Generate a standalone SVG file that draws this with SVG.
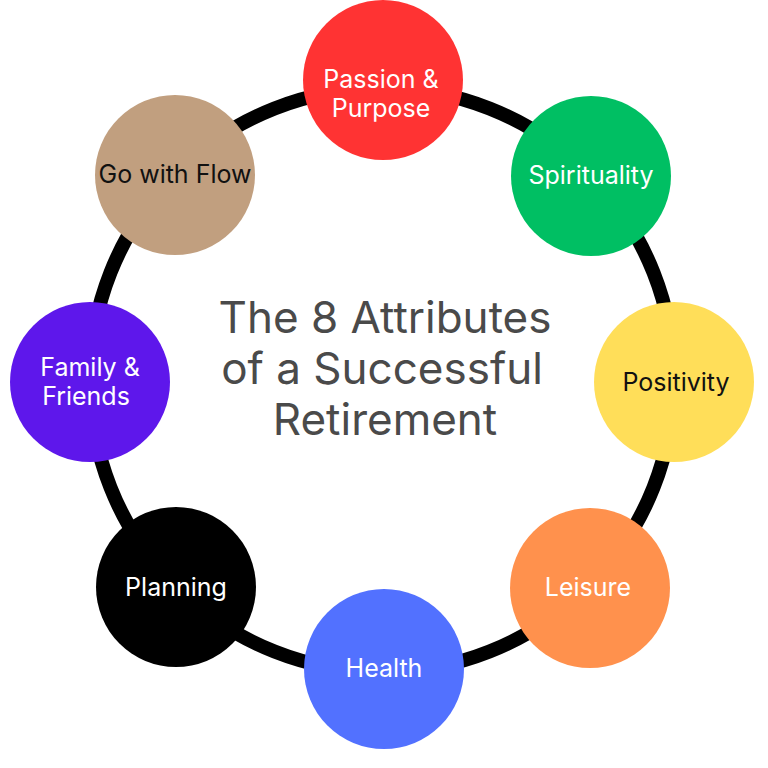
<svg xmlns="http://www.w3.org/2000/svg" width="768" height="768" viewBox="0 0 768 768">
<style>
.t{font-family:Inter,"Open Sans",sans-serif;font-size:25px;text-anchor:middle;dominant-baseline:central}
.w{fill:#fff}.k{fill:#111}
.title{font-family:Inter,"Open Sans",sans-serif;font-size:44px;fill:#4a4a4a;text-anchor:middle}
</style>
<rect width="768" height="768" fill="#fff"/>
<g id="connectors"><circle cx="382" cy="380" r="292" fill="none" stroke="#000" stroke-width="14"/></g>
<text class="title" x="385" y="333">The 8 Attributes</text>
<text class="title" x="382" y="384">of a Successful</text>
<text class="title" x="385" y="435">Retirement</text>
<g id="passion"><circle cx="383" cy="80" r="80" fill="#FF3333"/><text class="t w" x="381" y="79">Passion &amp;</text><text class="t w" x="381" y="108">Purpose</text></g>
<g id="spirituality"><circle cx="591" cy="176" r="80" fill="#00BF63"/><text class="t w" x="591" y="175">Spirituality</text></g>
<g id="positivity"><circle cx="674" cy="382" r="80" fill="#FFDE59"/><text class="t k" x="676" y="382">Positivity</text></g>
<g id="leisure"><circle cx="590" cy="588" r="80" fill="#FF914D"/><text class="t w" x="588" y="587">Leisure</text></g>
<g id="health"><circle cx="384" cy="669" r="80" fill="#5271FF"/><text class="t w" x="384" y="668">Health</text></g>
<g id="planning"><circle cx="176" cy="587" r="80" fill="#000"/><text class="t w" x="176" y="587">Planning</text></g>
<g id="family"><circle cx="90" cy="382" r="80" fill="#5E17EB"/><text class="t w" x="90" y="367">Family &amp;</text><text class="t w" x="86" y="396">Friends</text></g>
<g id="flow"><circle cx="175" cy="175" r="80" fill="#C19F7F"/><text class="t k" x="175" y="174">Go with Flow</text></g>
</svg>
